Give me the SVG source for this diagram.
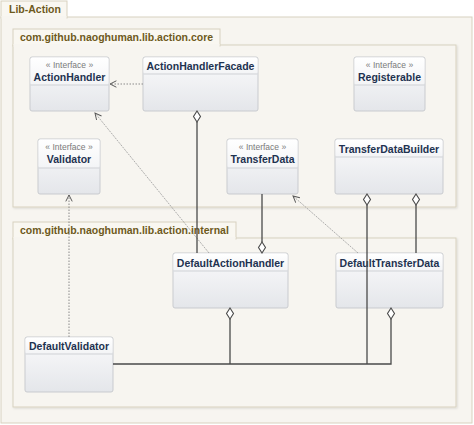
<svg xmlns="http://www.w3.org/2000/svg" width="474" height="425" viewBox="0 0 474 425">
<defs>
<linearGradient id="body" x1="0" y1="0" x2="0" y2="1">
<stop offset="0" stop-color="#fbfbfc"/>
<stop offset="1" stop-color="#e4e6ea"/>
</linearGradient>
<linearGradient id="head" x1="0" y1="0" x2="0" y2="1">
<stop offset="0" stop-color="#ffffff"/>
<stop offset="1" stop-color="#f3f4f6"/>
</linearGradient>
<marker id="open" viewBox="0 0 10 10" refX="9" refY="5" markerWidth="8" markerHeight="8" orient="auto" markerUnits="userSpaceOnUse">
<path d="M1,1 L9,5 L1,9" fill="none" stroke="#555" stroke-width="1.2"/>
</marker>
<filter id="sh" x="-5%" y="-5%" width="110%" height="110%">
<feDropShadow dx="1" dy="1" stdDeviation="1" flood-color="#000" flood-opacity="0.12"/>
</filter>
</defs>
<style>
.frame{fill:#f7f5f0;stroke:#d8d1bf;stroke-width:1}
.tab{fill:#f9f7f1;stroke:#d8d1bf;stroke-width:1}
.pkgtxt{font-family:"Liberation Sans",Arial,sans-serif;font-weight:bold;font-size:10.5px;fill:#6e5a1c}
.box{fill:url(#body);stroke:#c9cbcf;stroke-width:1}
.hd{fill:url(#head)}
.div{stroke:#cfd1d5;stroke-width:1}
.name{font-family:"Liberation Sans",Arial,sans-serif;font-weight:bold;font-size:10.5px;fill:#1e3250;text-anchor:middle}
.st{font-family:"Liberation Sans",Arial,sans-serif;font-size:8.5px;fill:#7a7a7a;text-anchor:middle}
.agg{fill:none;stroke:#4a4a4a;stroke-width:1.3}
.dia{fill:#ffffff;stroke:#4a4a4a;stroke-width:1.1}
.dep{fill:none;stroke:#8a8a8a;stroke-width:1;stroke-dasharray:1.5 1.5}
.thin{fill:none;stroke:#9a9a9a;stroke-width:0.8}
</style>

<g id="lib-action">
<rect class="frame" x="1" y="17" width="471" height="406"/>
<rect class="tab" x="1" y="1" width="66" height="17"/>
<rect x="1.5" y="16" width="65" height="3" fill="#f7f5f0"/>
<text class="pkgtxt" x="9" y="13">Lib-Action</text>
</g>

<g id="pkg-core">
<rect class="frame" x="13" y="45" width="443" height="162" filter="url(#sh)"/>
<rect class="tab" x="13" y="29" width="207" height="17"/>
<rect x="13.5" y="44" width="206" height="3" fill="#f7f5f0"/>
<text class="pkgtxt" x="20" y="41">com.github.naoghuman.lib.action.core</text>
</g>

<g id="pkg-internal">
<rect class="frame" x="13" y="238" width="443" height="169" filter="url(#sh)"/>
<rect class="tab" x="13" y="222" width="223" height="17"/>
<rect x="13.5" y="237" width="222" height="3" fill="#f7f5f0"/>
<text class="pkgtxt" x="20" y="234">com.github.naoghuman.lib.action.internal</text>
</g>

<g id="ActionHandler">
<rect class="box" x="30" y="57" width="79" height="54" rx="2"/>
<rect class="hd" x="30.5" y="57.5" width="78" height="27.5" rx="2"/>
<line class="div" x1="30.5" y1="85" x2="108.5" y2="85"/>
<text class="st" x="69.5" y="68">« Interface »</text>
<text class="name" x="69.5" y="81">ActionHandler</text>
</g>

<g id="ActionHandlerFacade">
<rect class="box" x="143" y="57" width="115" height="54" rx="2"/>
<rect class="hd" x="143.5" y="57.5" width="114" height="16.5" rx="2"/>
<line class="div" x1="143.5" y1="74" x2="257.5" y2="74"/>
<text class="name" x="200.5" y="70">ActionHandlerFacade</text>
</g>

<g id="Registerable">
<rect class="box" x="354" y="57" width="71" height="54" rx="2"/>
<rect class="hd" x="354.5" y="57.5" width="70" height="27.5" rx="2"/>
<line class="div" x1="354.5" y1="85" x2="424.5" y2="85"/>
<text class="st" x="389.5" y="68">« Interface »</text>
<text class="name" x="389.5" y="81">Registerable</text>
</g>

<g id="Validator">
<rect class="box" x="38" y="139" width="62" height="55" rx="2"/>
<rect class="hd" x="38.5" y="139.5" width="61" height="28.5" rx="2"/>
<line class="div" x1="38.5" y1="168" x2="99.5" y2="168"/>
<text class="st" x="69" y="150">« Interface »</text>
<text class="name" x="69" y="163">Validator</text>
</g>

<g id="TransferData">
<rect class="box" x="227" y="139" width="71" height="55" rx="2"/>
<rect class="hd" x="227.5" y="139.5" width="70" height="28.5" rx="2"/>
<line class="div" x1="227.5" y1="168" x2="297.5" y2="168"/>
<text class="st" x="262.5" y="150">« Interface »</text>
<text class="name" x="262.5" y="163">TransferData</text>
</g>

<g id="TransferDataBuilder">
<rect class="box" x="335" y="139" width="108" height="55" rx="2"/>
<rect class="hd" x="335.5" y="139.5" width="107" height="17.5" rx="2"/>
<line class="div" x1="335.5" y1="157" x2="442.5" y2="157"/>
<text class="name" x="389" y="153">TransferDataBuilder</text>
</g>

<g id="DefaultActionHandler">
<rect class="box" x="173" y="253" width="115" height="55" rx="2"/>
<rect class="hd" x="173.5" y="253.5" width="114" height="17.5" rx="2"/>
<line class="div" x1="173.5" y1="271" x2="287.5" y2="271"/>
<text class="name" x="230.5" y="267">DefaultActionHandler</text>
</g>

<g id="DefaultTransferData">
<rect class="box" x="336" y="253" width="107" height="55" rx="2"/>
<rect class="hd" x="336.5" y="253.5" width="106" height="17.5" rx="2"/>
<line class="div" x1="336.5" y1="271" x2="442.5" y2="271"/>
<text class="name" x="389.5" y="267">DefaultTransferData</text>
</g>

<g id="DefaultValidator">
<rect class="box" x="25" y="337" width="88" height="55" rx="2"/>
<rect class="hd" x="25.5" y="337.5" width="87" height="16.5" rx="2"/>
<line class="div" x1="25.5" y1="354" x2="112.5" y2="354"/>
<text class="name" x="69" y="350">DefaultValidator</text>
</g>

<g id="connectors">
<line class="dep" x1="143" y1="84" x2="110" y2="84" marker-end="url(#open)"/>
<line class="thin" x1="209" y1="253" x2="95" y2="113" stroke-dasharray="2 1" marker-end="url(#open)"/>
<line class="dep" x1="69" y1="337" x2="69" y2="195" marker-end="url(#open)"/>
<line class="thin" x1="358" y1="253" x2="293" y2="196" stroke-dasharray="2 1" marker-end="url(#open)"/>
<path class="agg" d="M197,122 V253"/>
<polygon class="dia" points="197,111 200.5,116.5 197,122 193.5,116.5"/>
<path class="agg" d="M262,194 V242"/>
<polygon class="dia" points="262,242 265.5,247.5 262,253 258.5,247.5"/>
<path class="agg" d="M416,205 V253"/>
<polygon class="dia" points="416,194 419.5,199.5 416,205 412.5,199.5"/>
<path class="agg" d="M367,205 V364"/>
<polygon class="dia" points="367,194 370.5,199.5 367,205 363.5,199.5"/>
<path class="agg" d="M113,364 H391 V319"/>
<polygon class="dia" points="391,308 394.5,313.5 391,319 387.5,313.5"/>
<path class="agg" d="M230,319 V364"/>
<polygon class="dia" points="230,308 233.5,313.5 230,319 226.5,313.5"/>
</g>
</svg>
